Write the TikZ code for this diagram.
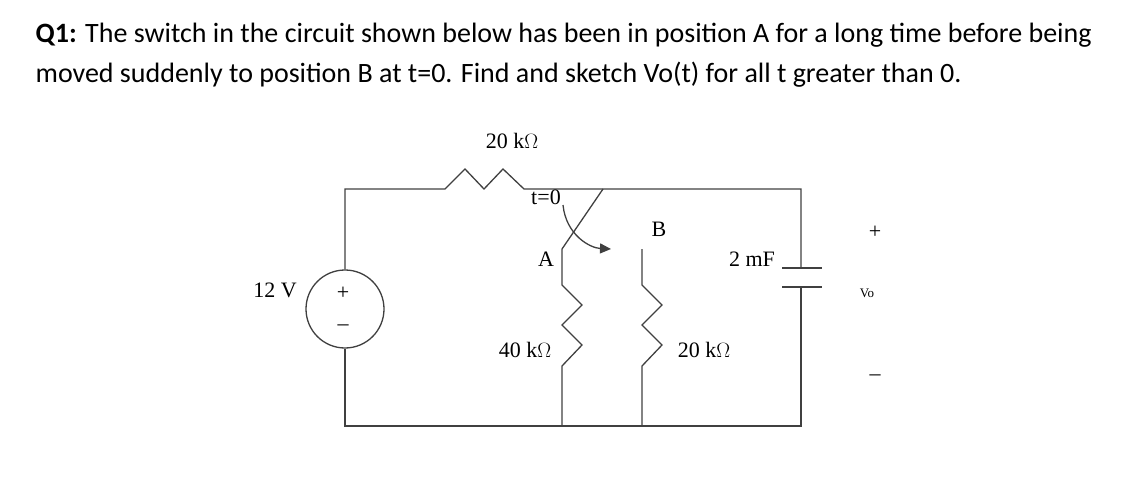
\documentclass[tikz,border=0pt]{standalone}
\usepackage{fontspec}
\usetikzlibrary{arrows.meta}
\setmainfont{Liberation Serif}
\newfontfamily\calfontx{Carlito}
\begin{document}
\begin{tikzpicture}[x=1pt,y=-1pt,line width=1.3pt,color=black!75,
  lab/.style={font=\fontsize{22}{22}\selectfont,text=black,inner sep=0pt},
  ttl/.style={font=\calfontx\fontsize{28}{28}\selectfont,text=black,anchor=base west,inner sep=0pt}]
\useasboundingbox (0,0) rectangle (1135,481);
\node[ttl] (t1) at (35,43) {\textbf{Q1:} The switch in the circuit shown below has been in position A for a long time before being};
\node[ttl] (t2) at (35,83) {moved suddenly to position B at t=0. Find and sketch Vo(t) for all t greater than 0.};
% coordinates
\coordinate (tl) at (345,189); \coordinate (tr) at (801,189);
\coordinate (bl) at (345,426); \coordinate (br) at (801,426);
\coordinate (sw) at (603,189); \coordinate (A) at (562,249); \coordinate (B) at (642,249);
\node[circle,draw,minimum size=78pt,inner sep=0pt] (src) at (345,309) {};
\draw (src.north) -- (tl) -- (445,189) -- (465,169) -- (484,189) -- (503,169) -- (524,189) -- (tr) -- (801,268);
\draw (782,268) -- (822,268);
\draw (782,287) -- (822,287);
\draw (801,287) -- (br) -- (bl) -- (src.south);
\draw (sw) -- (A);
\draw (A) -- (562,285) -- (582,305) -- (562,325) -- (582,345) -- (562,366) -- (562,426);
\draw (B) -- (642,285) -- (662,305) -- (642,325) -- (662,345) -- (642,366) -- (642,426);
\draw[-{Triangle[length=11pt,width=10pt]}] (563,205) .. controls (566,235) and (590,248) .. (611,249);
\node[lab] (r1) at (512,141) {20 k$\Omega$};
\node[lab] (t0) at (546,197) {t=0};
\node[lab] (la) at (546,259) {A};
\node[lab] (lb) at (659,229) {B};
\node[lab] (lc) at (752,259) {2 mF};
\node[lab] (r2) at (525,350) {40 k$\Omega$};
\node[lab] (r3) at (704,350) {20 k$\Omega$};
\node[lab] (lv) at (275,290) {12 V};
\node[lab] (sp) at (343,293) {+};
\node[lab] (sm) at (343,328) {--};
\node[lab] (vp) at (875,232) {+};
\node[lab,font=\fontsize{13}{13}\selectfont] (vo) at (867,293) {Vo};
\node[lab] (vm) at (875,378) {--};
\end{tikzpicture}
\end{document}
